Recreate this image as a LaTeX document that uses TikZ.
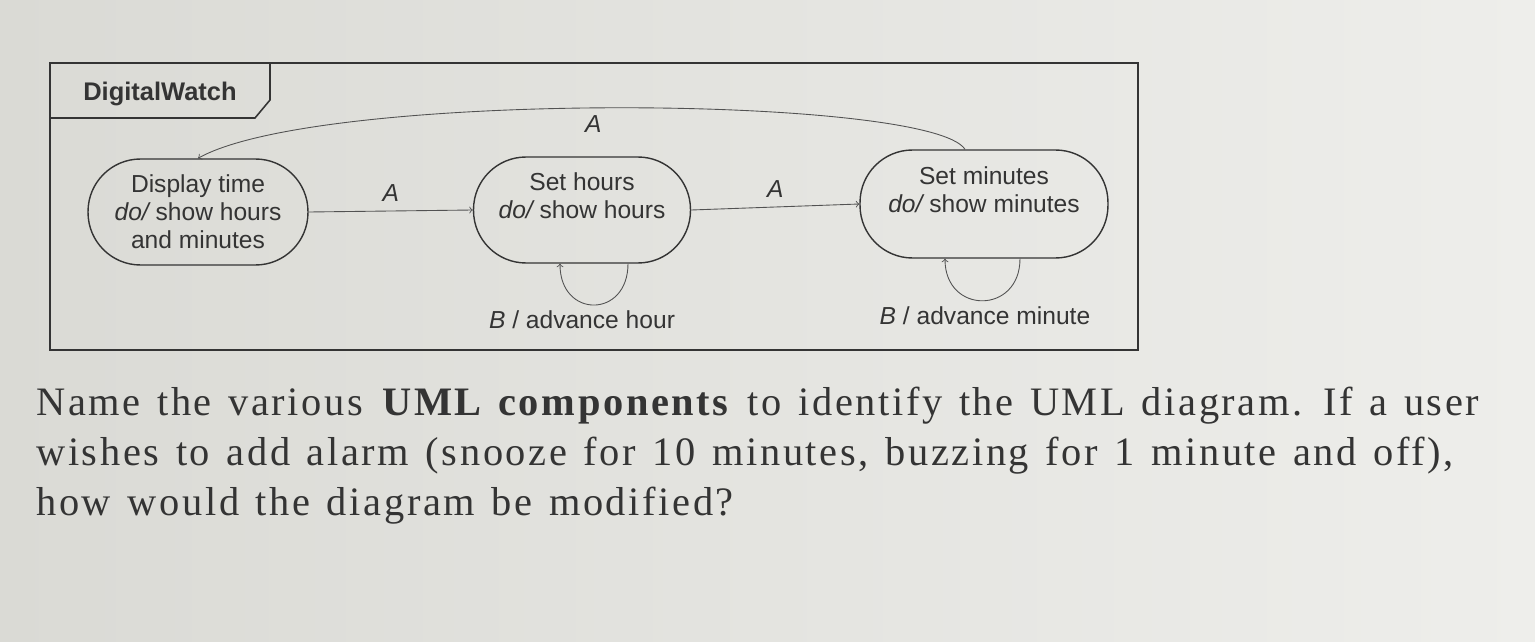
\documentclass[tikz,border=0pt]{standalone}
\usepackage{fontspec}
\setmainfont{Liberation Serif}
\setsansfont{Liberation Sans}
\newfontfamily\questionfont[LetterSpace = 6.5, WordSpace = 1.3]{Liberation Serif}
\usepackage{tikz}
\usetikzlibrary{positioning}

\definecolor{paper}{RGB}{218,218,213}
\definecolor{paperlight}{RGB}{238,238,235}
\definecolor{ink}{RGB}{52,52,52}

\begin{document}
\begin{tikzpicture}[x = 0.02 cm, y = -0.02 cm,
	state/.style = {draw = ink, line width = 0.8 pt, rounded corners = 1.05 cm, minimum height = 2.12 cm, inner sep = 1 pt, align = center, font = \sffamily\fontsize{14}{16}\selectfont, text = ink},
	trans/.style = {draw = ink!85, line width = 0.5 pt, ->},
	lbl/.style = {font = \sffamily\fontsize{14}{16}\selectfont, text = ink}]
	 \fill[left color = paper, right color = paperlight] (0, 0) rectangle (1535, 642);
	 \useasboundingbox (0, 0) rectangle (1535, 642);
	 
	 \draw[ink, line width = 1.1 pt] (50, 63) rectangle (1138, 350);
	 \draw[ink, line width = 0.9 pt] (50, 118) -- (255, 118) -- (270, 100) -- (270, 63);
	 \node[font = \sffamily\bfseries\fontsize{14.5}{16}\selectfont, text = ink] (title) at (160, 94) {DigitalWatch};
	 
	 \node[state, minimum width = 4.4 cm] (disp) at (198, 212) {Display time\\ {\itshape do/} show hours\\ and minutes};
	 \node[state, minimum width = 4.34 cm] (hrs) at (582, 210) {Set hours\\ {\itshape do/} show hours\\ \mbox{}};
	 \node[state, minimum width = 4.96 cm, minimum height = 2.16 cm] (min) at (984, 204) {Set minutes\\ {\itshape do/} show minutes\\ \mbox{}};
	 
	 \draw[trans] (disp.east) -- node[lbl, above = 2 pt] {\itshape A} (hrs.west);
	 \draw[trans] (hrs.east) -- node[lbl, above = 2 pt] {\itshape A} (min.west);
	 \draw[trans] ([xshift = -0.38 cm]min.north) .. controls (930, 95) and (320, 90) .. node[lbl, pos = 0.52, below = 1 pt] {\itshape A} (disp.north);
	 
	 \draw[trans] ([xshift = 0.92 cm]hrs.south) .. controls +(0, 55) and +(0, 55) .. ([xshift = -0.44 cm]hrs.south);
	 \draw[trans] ([xshift = 0.72 cm]min.south) .. controls +(0, 56) and +(0, 56) .. ([xshift = -0.78 cm]min.south);
	 \node[lbl] (hrsloop) at (582, 320) {{\itshape B} / advance hour};
	 \node[lbl] (minloop) at (985, 316) {{\itshape B} / advance minute};
	 
	 \node[anchor = north west, inner sep = 0 pt, align = left, font = \questionfont\fontsize{23}{28.5}\selectfont, text = ink] (question) at (36, 387) {Name the various \textbf{UML components} to identify the UML diagram. If a user\\ wishes to add alarm (snooze for 10 minutes, buzzing for 1 minute and off),\\ how would the diagram be modified?};
	 \end{tikzpicture}
\end{document}
